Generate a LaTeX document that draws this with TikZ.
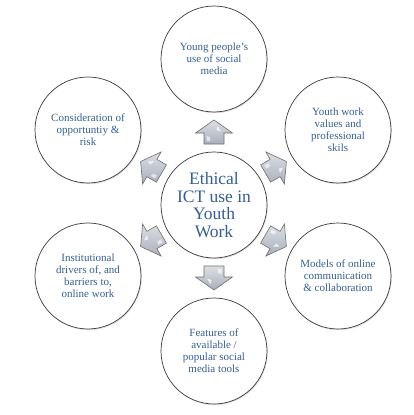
\documentclass[tikz,border=0pt]{standalone}
\usepackage{fontspec}
\setmainfont{Liberation Serif}
\usetikzlibrary{calc,shadows}
\definecolor{txtblue}{HTML}{365F91}
\definecolor{ringgray}{HTML}{3A3A3A}
\definecolor{arrfill}{HTML}{C4C9D3}
\definecolor{arrdark}{HTML}{A9AFBB}
\definecolor{arredge}{HTML}{6E6E6E}
\tikzset{
  bubble/.style={circle, draw=ringgray, line width=0.7pt, fill=white,
    minimum size=106pt, inner sep=0pt, align=center, text=txtblue,
    font=\fontsize{11}{12}\selectfont,
    drop shadow={opacity=0.25, shadow xshift=0.8pt, shadow yshift=-1.2pt}},
  hub/.style={bubble, font=\fontsize{17.5}{17.5}\selectfont},
  blockarr/.pic={
    \path[draw=arredge, line width=0.6pt, line join=miter,
      top color=arrfill!60!white, bottom color=arrdark, shading angle=0]
      (-12,-10) -- (-1,-10) -- (-1,-18.5) -- (12,0) -- (-1,18.5) -- (-1,10)
      -- (-12,10) -- cycle;
    \fill[white, opacity=0.75] (0.5,7) -- (6,3.5) -- (2,2.5) -- cycle;
    \fill[white, opacity=0.6] (-9,-7.5) -- (-4,-7.5) -- (-5,-4) -- (-9,-4) -- cycle;
  }
}
\begin{document}
\begin{tikzpicture}[x=1pt,y=-1pt]
\useasboundingbox (0,0) rectangle (413,415);
\node[hub] (c) at (214,205) {Ethical\\ICT use in\\Youth\\Work};
\node[bubble] (t) at (214,59) {Young people's\\use of social\\media};
\node[bubble] (rt) at (338,130) {Youth work\\values and\\professional\\skils};
\node[bubble] (rb) at (338,276) {Models of online\\communication\\\& collaboration};
\node[bubble] (b) at (214,351) {Features of\\available /\\popular social\\media tools};
\node[bubble] (lb) at (88,276) {Institutional\\drivers of, and\\barriers to,\\online work};
\node[bubble] (lt) at (88,130) {Consideration of\\opportuntiy \&\\risk};
\pic[rotate=90]  at ($(c)!0.5!(t)$)  {blockarr};
\pic[rotate=30]  at ($(c)!0.5!(rt)$) {blockarr};
\pic[rotate=-30] at ($(c)!0.5!(rb)$) {blockarr};
\pic[rotate=-90] at ($(c)!0.5!(b)$)  {blockarr};
\pic[rotate=-150] at ($(c)!0.5!(lb)$) {blockarr};
\pic[rotate=150] at ($(c)!0.5!(lt)$) {blockarr};
\end{tikzpicture}
\end{document}
